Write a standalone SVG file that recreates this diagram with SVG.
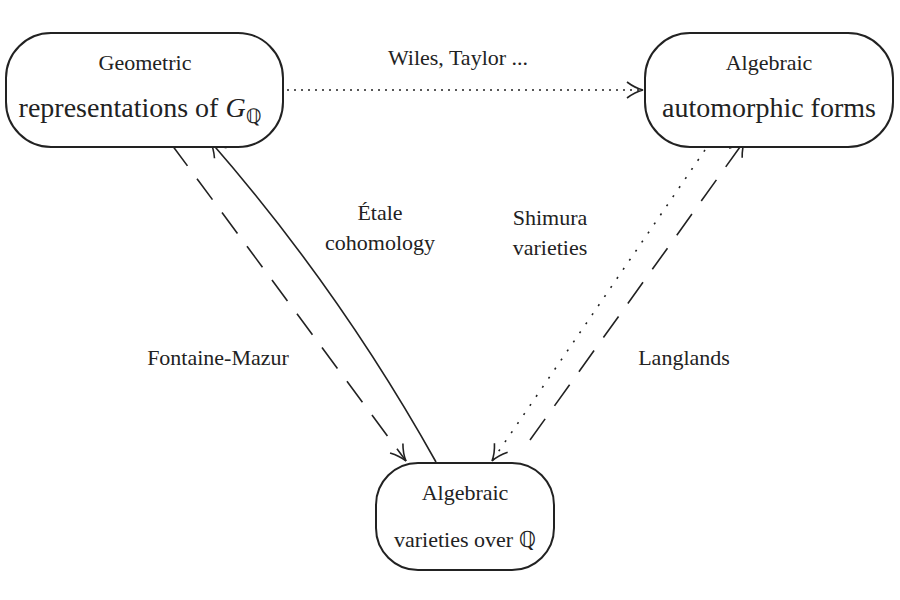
<svg xmlns="http://www.w3.org/2000/svg" width="900" height="600" viewBox="0 0 900 600">
<style>
.box{fill:#fff;stroke:#222;stroke-width:2}
.t{font-family:"Liberation Serif",serif;fill:#222;text-anchor:middle}
.s{font-size:22px}
.b{font-size:28px}
.e{fill:none;stroke:#222;stroke-width:1.6}
.ah{fill:none;stroke:#222;stroke-width:1.6}
</style>
<defs>
<marker id="a" viewBox="0 0 20 20" refX="18" refY="10" markerWidth="20" markerHeight="20" markerUnits="userSpaceOnUse" orient="auto">
<path d="M2,2 Q10,8 18,10 Q10,12 2,18" class="ah"/>
</marker>
</defs>
<rect width="900" height="600" fill="#fff"/>
<g id="connectors">
<line class="e" x1="287" y1="90" x2="643" y2="90" stroke-dasharray="2,5" marker-end="url(#a)"/>
<line class="e" x1="172" y1="145" x2="406" y2="461" stroke-dasharray="26,16" marker-end="url(#a)"/>
<path class="e" d="M436,462 Q340,290 210,141" marker-end="url(#a)"/>
<line class="e" x1="705" y1="150" x2="492" y2="461" stroke-dasharray="2,9" marker-end="url(#a)"/>
<line class="e" x1="530" y1="440" x2="745" y2="140" stroke-dasharray="26,16" marker-end="url(#a)"/>
</g>
<g id="labels">
<text class="t s" x="458" y="65">Wiles, Taylor ...</text>
<text class="t s" x="380" y="220">Étale</text>
<text class="t s" x="380" y="250">cohomology</text>
<text class="t s" x="550" y="225">Shimura</text>
<text class="t s" x="550" y="255">varieties</text>
<text class="t s" x="218" y="365">Fontaine-Mazur</text>
<text class="t s" x="684" y="365">Langlands</text>
</g>
<g id="geometric">
<rect class="box" x="6" y="33" width="277" height="114" rx="45"/>
<text class="t s" x="145" y="70">Geometric</text>
<text class="t b" x="140" y="117">representations of <tspan font-style="italic">G</tspan><tspan font-size="20" dy="6" font-family="DejaVu Sans,sans-serif">ℚ</tspan></text>
</g>
<g id="automorphic">
<rect class="box" x="645" y="33" width="248" height="114" rx="45"/>
<text class="t s" x="769" y="70">Algebraic</text>
<text class="t b" x="769" y="117">automorphic forms</text>
</g>
<g id="varieties">
<rect class="box" x="376" y="463" width="178" height="107" rx="42"/>
<text class="t s" x="465" y="500">Algebraic</text>
<text class="t s" x="465" y="547">varieties over <tspan font-family="DejaVu Sans,sans-serif">ℚ</tspan></text>
</g>
</svg>
